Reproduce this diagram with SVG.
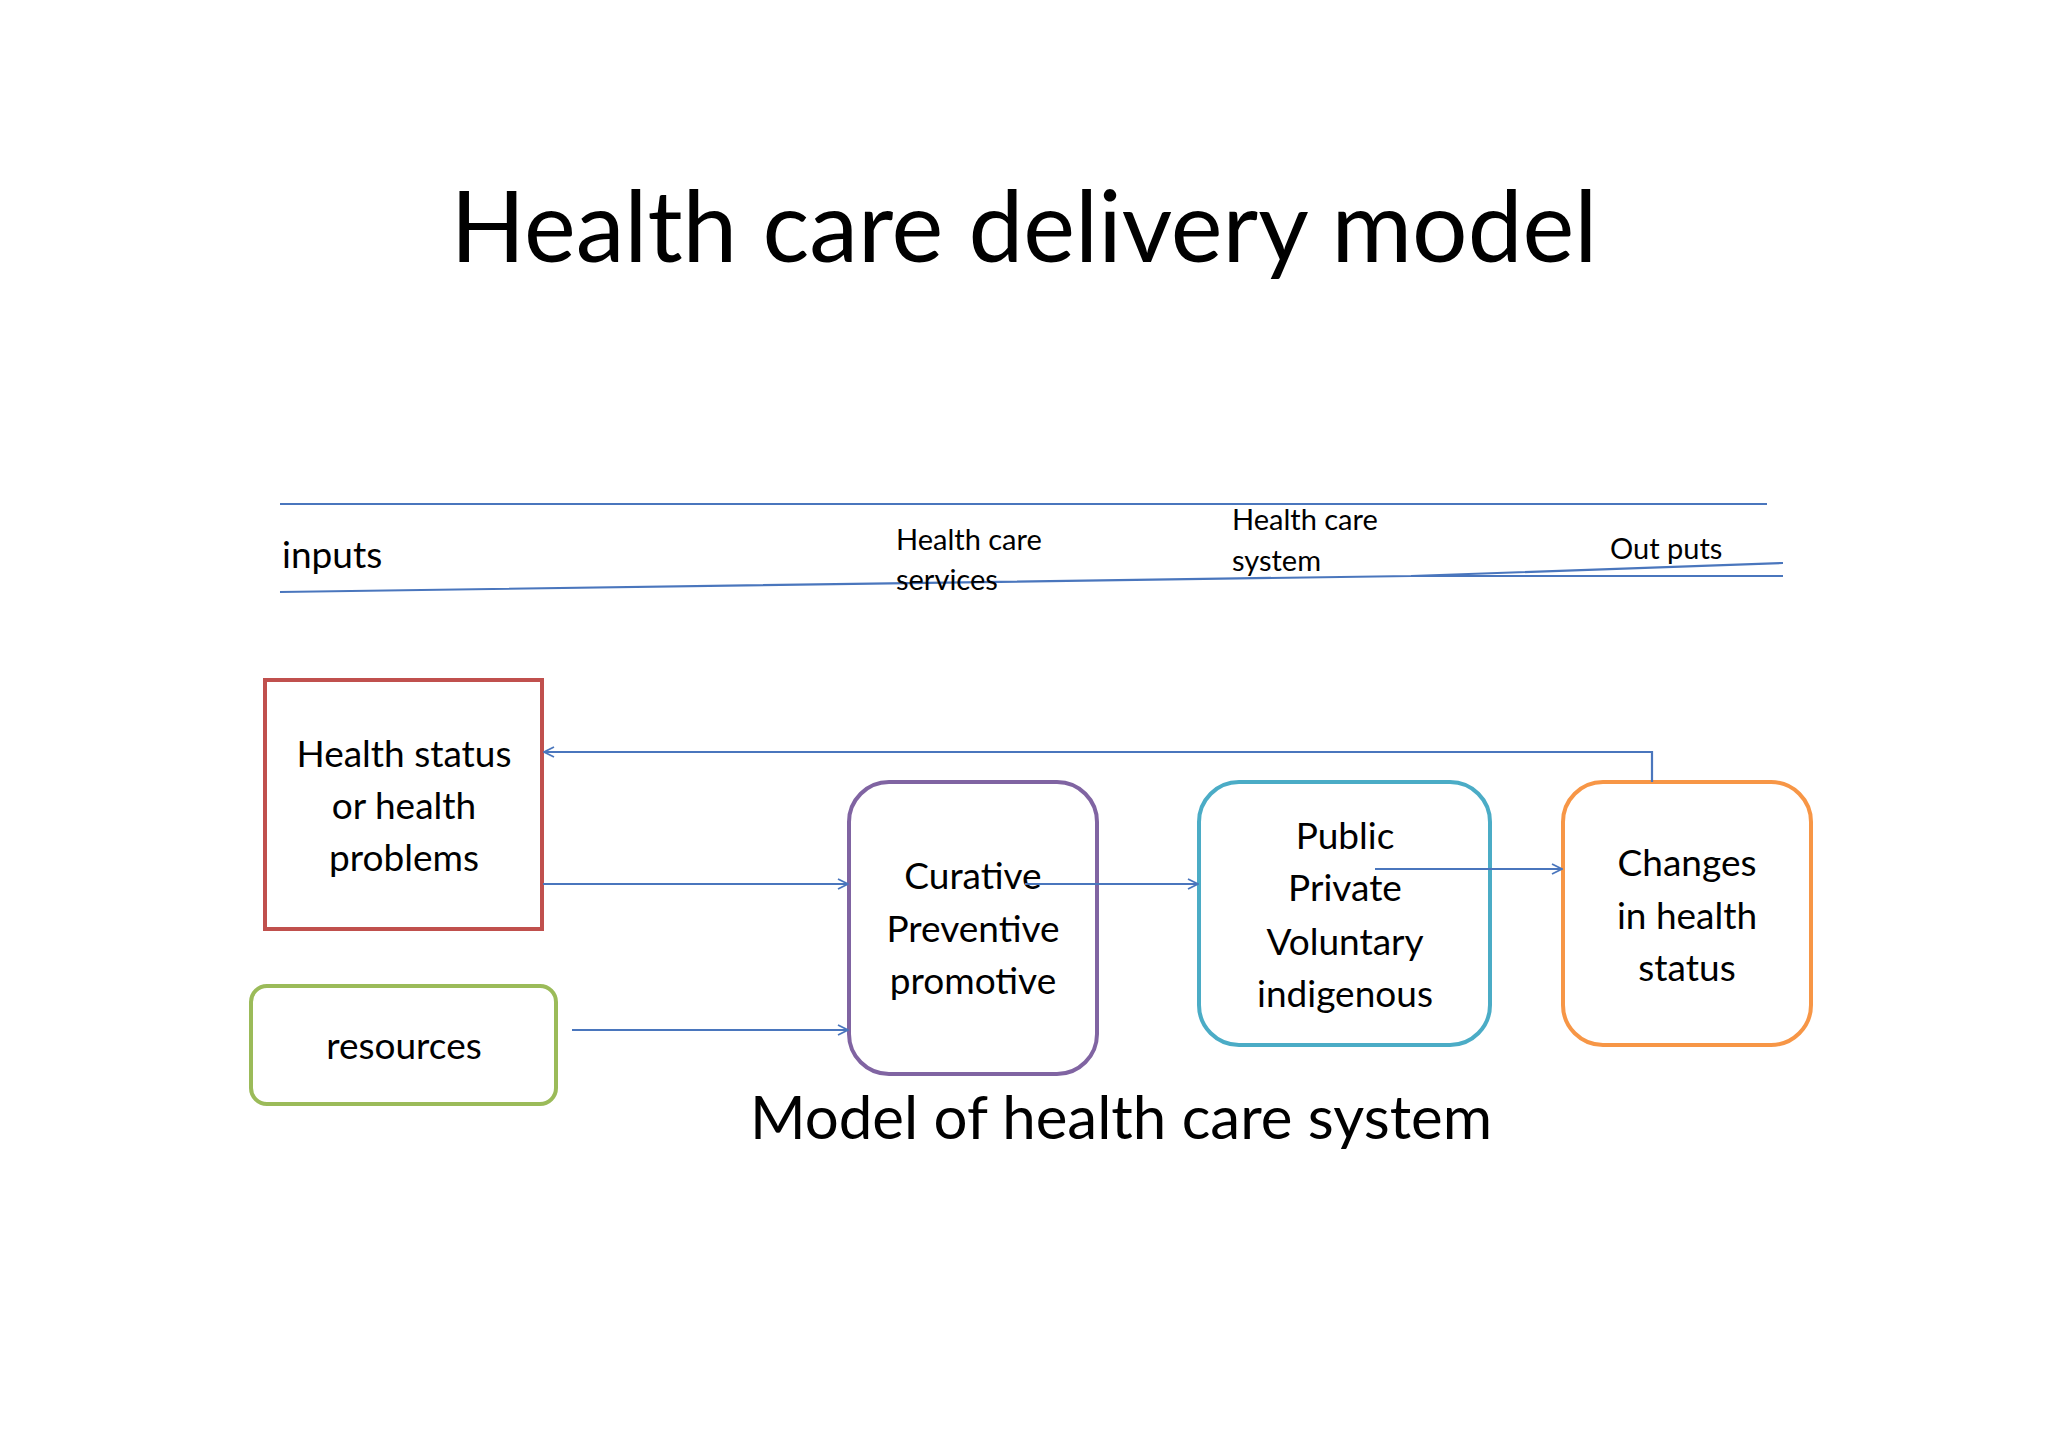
<svg xmlns="http://www.w3.org/2000/svg" width="2048" height="1447" viewBox="0 0 2048 1447">
<style>
text{font-family:Lato,"Open Sans","Liberation Sans",sans-serif;fill:#000}
.l{font-size:37px;text-anchor:middle}
.s{font-size:29px}
.c{stroke:#4a76bd;stroke-width:2.2;fill:none}
</style>
<defs><marker id="a" viewBox="0 0 12 12" refX="11" refY="6" markerWidth="12" markerHeight="12" markerUnits="userSpaceOnUse" orient="auto"><path d="M1,1 L11,6 L1,11" fill="none" stroke="#4a76bd" stroke-width="1.8"/></marker></defs>
<rect width="2048" height="1447" fill="#fff"/>
<text x="1024" y="262" font-size="98" text-anchor="middle">Health care delivery model</text>
<g id="header">
<path class="c" d="M280,504 H1767 M280,592 L1411,576 H1783 M1411,576 L1783,563"/>
<text x="282" y="568" font-size="37">inputs</text>
<text class="s" x="896" y="550">Health care</text>
<text class="s" x="896" y="590">services</text>
<text class="s" x="1232" y="530">Health care</text>
<text class="s" x="1232" y="571">system</text>
<text class="s" x="1610" y="559">Out puts</text>
</g>
<g id="health-status"><rect x="265" y="680" width="277" height="249" fill="#fff" stroke="#c0504d" stroke-width="4"/>
<text class="l" x="404" y="767">Health status</text><text class="l" x="404" y="819">or health</text><text class="l" x="404" y="871">problems</text></g>
<g id="resources"><rect x="251" y="986" width="305" height="118" rx="16" fill="#fff" stroke="#9bbb59" stroke-width="4"/>
<text class="l" x="404" y="1059">resources</text></g>
<g id="services"><rect x="849" y="782" width="248" height="292" rx="40" fill="#fff" stroke="#8064a2" stroke-width="4"/>
<text class="l" x="973" y="889">Curative</text><text class="l" x="973" y="942">Preventive</text><text class="l" x="973" y="994">promotive</text></g>
<g id="system"><rect x="1199" y="782" width="291" height="263" rx="40" fill="#fff" stroke="#4bacc6" stroke-width="4"/>
<text class="l" x="1345" y="849">Public</text><text class="l" x="1345" y="901">Private</text><text class="l" x="1345" y="955">Voluntary</text><text class="l" x="1345" y="1007">indigenous</text></g>
<g id="changes"><rect x="1563" y="782" width="248" height="263" rx="40" fill="#fff" stroke="#f79646" stroke-width="4"/>
<text class="l" x="1687" y="876">Changes</text><text class="l" x="1687" y="929">in health</text><text class="l" x="1687" y="981">status</text></g>
<g id="connectors">
<path class="c" d="M1652,782 V752 H544" marker-end="url(#a)"/>
<path class="c" d="M543,884 H848" marker-end="url(#a)"/>
<path class="c" d="M572,1030 H848" marker-end="url(#a)"/>
<path class="c" d="M1025,884 H1198" marker-end="url(#a)"/>
<path class="c" d="M1375,869 H1562" marker-end="url(#a)"/>
</g>
<text x="1121" y="1139" font-size="60" text-anchor="middle">Model of health care system</text>
</svg>
